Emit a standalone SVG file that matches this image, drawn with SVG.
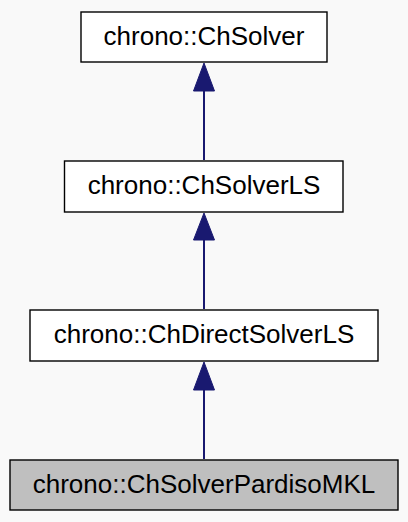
<svg xmlns="http://www.w3.org/2000/svg" width="408" height="522" viewBox="0 0 408 522">
<style>
.box{fill:#ffffff;stroke:#000000;stroke-width:1.4}
.leaf{fill:#bfbfbf;stroke:#000000;stroke-width:1.4}
.lbl{font-family:"Liberation Sans",Arial,sans-serif;font-size:26px;fill:#000000;text-anchor:middle}
.edge{stroke:#191970;stroke-width:2;fill:none}
.head{fill:#191970;stroke:#191970;stroke-width:1}
</style>
<rect width="408" height="522" fill="#f9f9f9"/>
<g id="connectors">
<path class="edge" d="M204,160 V90"/>
<polygon class="head" points="204,63 193.5,91 214.5,91"/>
<path class="edge" d="M204,309 V239"/>
<polygon class="head" points="204,213 193.5,240 214.5,240"/>
<path class="edge" d="M204,459 V389"/>
<polygon class="head" points="204,362 193.5,390 214.5,390"/>
</g>
<g id="n1">
<rect class="box" x="81" y="12" width="246" height="50"/>
<text class="lbl" x="204" y="45">chrono::ChSolver</text>
</g>
<g id="n2">
<rect class="box" x="64.5" y="161" width="278.5" height="51"/>
<text class="lbl" x="204" y="194">chrono::ChSolverLS</text>
</g>
<g id="n3">
<rect class="box" x="30" y="310" width="348" height="51"/>
<text class="lbl" x="204" y="343">chrono::ChDirectSolverLS</text>
</g>
<g id="n4">
<rect class="leaf" x="10" y="460" width="388" height="50"/>
<text class="lbl" x="204" y="493">chrono::ChSolverPardisoMKL</text>
</g>
</svg>
